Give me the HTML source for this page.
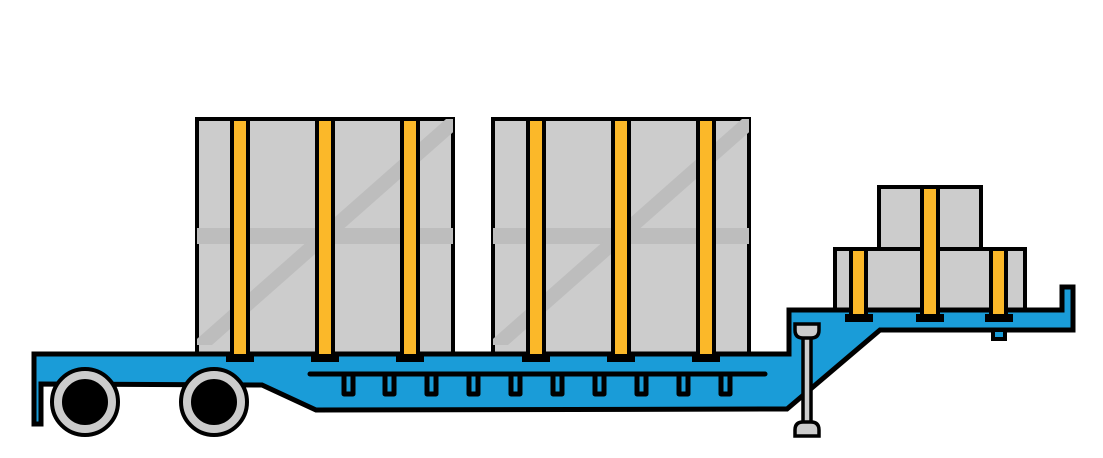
<!DOCTYPE html>
<html><head><style>html,body{margin:0;padding:0;background:#fff}svg{display:block}</style></head>
<body>
<svg width="1103" height="458" viewBox="0 0 1103 458" xmlns="http://www.w3.org/2000/svg">
<defs>
<clipPath id="c1"><rect x="197" y="119" width="256" height="233"/></clipPath>
<clipPath id="c2"><rect x="493" y="119" width="256" height="233"/></clipPath>
</defs>
<g>
<rect x="197" y="119" width="256" height="235" fill="#cccccc" stroke="#000" stroke-width="4"/>
<g clip-path="url(#c1)" fill="#bdbdbd">
<rect x="197" y="228" width="256" height="16"/>
<polygon points="190,345 446,119 468,119 212,345"/>
</g>
<rect x="493" y="119" width="256" height="235" fill="#cccccc" stroke="#000" stroke-width="4"/>
<g clip-path="url(#c2)" fill="#bdbdbd">
<rect x="493" y="228" width="256" height="16"/>
<polygon points="486,345 742,119 764,119 508,345"/>
</g>
</g>
<rect x="879" y="187" width="102" height="62" fill="#cccccc" stroke="#000" stroke-width="4"/>
<rect x="835" y="249" width="190" height="62" fill="#cccccc" stroke="#000" stroke-width="4"/>
<polygon points="34,354 789,354 789,310 1062,310 1062,287 1073,287 1073,330 880,330 787,409 316,410 262,385 41,384 41,424 34,424" fill="#1a9cd8" stroke="#000" stroke-width="5" stroke-linejoin="miter"/>
<rect x="993" y="330" width="12" height="9" fill="#1a9cd8" stroke="#000" stroke-width="4"/>
<g stroke="#000" stroke-width="5" fill="none" stroke-linecap="round" stroke-linejoin="round">
<line x1="310" y1="374" x2="765" y2="374"/>
<path d="M344,374 V394 H353 V374 M385,374 V394 H394 V374 M427,374 V394 H436 V374 M469,374 V394 H478 V374 M511,374 V394 H520 V374 M553,374 V394 H562 V374 M595,374 V394 H604 V374 M637,374 V394 H646 V374 M679,374 V394 H688 V374 M721,374 V394 H730 V374"/>
</g>
<g fill="#fbb829" stroke="#000" stroke-width="4">
<rect x="232" y="119" width="16" height="237"/>
<rect x="317" y="119" width="16" height="237"/>
<rect x="402" y="119" width="16" height="237"/>
<rect x="528" y="119" width="16" height="237"/>
<rect x="613" y="119" width="16" height="237"/>
<rect x="698" y="119" width="16" height="237"/>
<rect x="851" y="249" width="15" height="68"/>
<rect x="922" y="187" width="16" height="130"/>
<rect x="991" y="249" width="15" height="68"/>
</g>
<g fill="#000">
<rect x="226" y="354" width="28" height="8"/>
<rect x="311" y="354" width="28" height="8"/>
<rect x="396" y="354" width="28" height="8"/>
<rect x="522" y="354" width="28" height="8"/>
<rect x="607" y="354" width="28" height="8"/>
<rect x="692" y="354" width="28" height="8"/>
<rect x="845" y="314" width="28" height="8"/>
<rect x="916" y="314" width="28" height="8"/>
<rect x="985" y="314" width="28" height="8"/>
</g>
<g fill="#cccccc" stroke="#000" stroke-width="3.5">
<rect x="803" y="334" width="8" height="90"/>
<path d="M795,324 H819 V330 Q819,338 811,338 H803 Q795,338 795,330 Z"/>
<path d="M795,436 H819 V430 Q819,422 811,422 H803 Q795,422 795,430 Z"/>
</g>
<g stroke="#000" stroke-width="4">
<circle cx="85" cy="402" r="33" fill="#cccccc"/>
<circle cx="85" cy="402" r="21" fill="#000"/>
<circle cx="214" cy="402" r="33" fill="#cccccc"/>
<circle cx="214" cy="402" r="21" fill="#000"/>
</g>
</svg>
</body></html>
